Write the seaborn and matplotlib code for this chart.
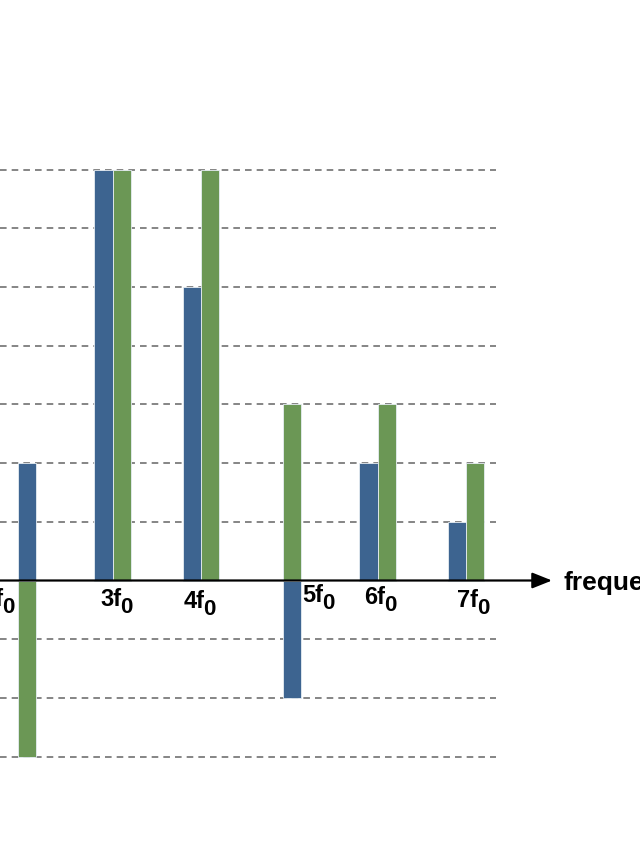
import numpy as np
import pandas as pd
import matplotlib
matplotlib.use("Agg")
import matplotlib.pyplot as plt
import seaborn as sns

# ---- data ----
harmonics = [2, 3, 4, 5, 6, 7]
labels = ["2f", "3f", "4f", "5f", "6f", "7f"]
blue_vals = [2, 7, 5, -2, 2, 1]
green_vals = [-3, 7, 7, 3, 3, 2]
grid_levels = [-3, -2, -1, 1, 2, 3, 4, 5, 6, 7]

# ---- layout (pixel-based geometry) ----
W, H, DPI = 640, 853, 100
PX_PER_H = 88.3          # pixels per harmonic step
X3_PX = 112.7            # pixel x of the 3f0 pair centre
Y0_PX = 581.5            # pixel y of the zero line
PX_PER_U = 58.7          # pixels per value unit
K0 = 3 - X3_PX / PX_PER_H


def kx(px):
    return K0 + px / PX_PER_H


def vy(py):
    return (Y0_PX - py) / PX_PER_U


BAR_W = 18.3 / PX_PER_H
blue_c = "#3D6490"
green_c = "#6B9755"

# build bar table: side-by-side when both positive, stacked (same x) when signs differ
rows = []
for k, b, g in zip(harmonics, blue_vals, green_vals):
    if (b > 0) and (g > 0):
        rows.append((k - BAR_W / 2, b, "blue"))
        rows.append((k + BAR_W / 2, g, "green"))
    else:
        shift = 2.5 / PX_PER_H
        rows.append((k + shift, b, "blue"))
        rows.append((k + shift, g, "green"))
df = pd.DataFrame(rows, columns=["pos", "value", "series"])

sns.set_theme(style="white")
plt.rcParams["font.family"] = ["Liberation Sans", "DejaVu Sans"]

fig = plt.figure(figsize=(W / DPI, H / DPI), dpi=DPI)
ax = fig.add_axes([0, 0, 1, 1])

# dashed gridlines
ax.hlines(grid_levels, kx(0), kx(496), colors="#858585", linestyles=(0, (3.4, 2.6)),
          linewidth=1.4, zorder=1)

sns.barplot(data=df, x="pos", y="value", hue="series", native_scale=True,
            dodge=False, width=1.0, palette={"blue": blue_c, "green": green_c},
            saturation=1, edgecolor="#e6edf3", linewidth=0.6, legend=False,
            ax=ax, zorder=2, errorbar=None)
# keep exact bar width
for p in ax.patches:
    c = p.get_x() + p.get_width() / 2
    p.set_width(BAR_W)
    p.set_x(c - BAR_W / 2)

ax.set_xlim(kx(0), kx(W))
ax.set_ylim(vy(H), vy(0))
ax.axis("off")

# zero axis with arrow
ax.annotate("", xy=(kx(552), 0), xytext=(kx(0), 0),
            arrowprops=dict(arrowstyle="-|>,head_length=1.0,head_width=0.4",
                            mutation_scale=12, lw=1.6, color="black",
                            shrinkA=0, shrinkB=0), zorder=4)
ax.text(kx(564), vy(590), "frequency", fontsize=19, fontweight="bold",
        ha="left", va="baseline", color="black", zorder=5)

# harmonic labels: (left edge px, baseline px)
label_pos = [(-18.0, 605.5), (100.0, 605.5), (183.5, 608.0),
             (302.5, 601.5), (364.5, 604.0), (457.0, 607.0)]
for lab, (lx, ly) in zip(labels, label_pos):
    t = ax.text(kx(lx), vy(ly), lab, fontsize=17, fontweight="bold",
                ha="left", va="baseline", color="black", zorder=5)
    ax.annotate("0", xy=(1, 0), xycoords=t, xytext=(-0.8, -5.2),
                textcoords="offset points", fontsize=16, fontweight="bold",
                ha="left", va="bottom", color="black", zorder=5)

fig.savefig("out.png", dpi=DPI)
